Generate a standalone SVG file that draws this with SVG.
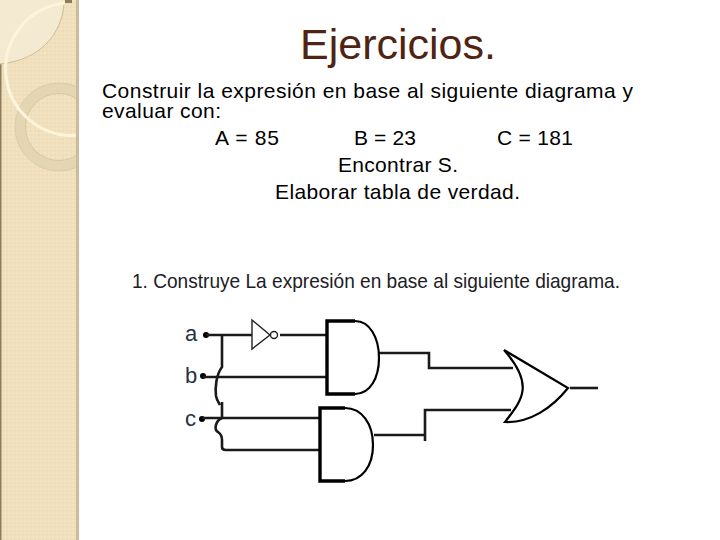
<svg xmlns="http://www.w3.org/2000/svg" width="720" height="540" viewBox="0 0 720 540">
<defs>
<pattern id="weave" width="4" height="4" patternUnits="userSpaceOnUse"><rect width="4" height="4" fill="#f0e0bd"/><rect width="2" height="2" fill="#f2e3c3"/><rect x="2" y="2" width="2" height="2" fill="#eedcb6"/></pattern>
<clipPath id="bar"><rect width="76" height="540"/></clipPath>
</defs>
<style>
text{font-family:"Liberation Sans",Arial,sans-serif}
.body{font-size:21px;fill:#000}
.w{fill:none;stroke:#1a1a1a;stroke-width:2.6}
.g{fill:none;stroke:#000;stroke-width:2.2}
.s{fill:none;stroke:#000;stroke-width:3.4}
.t{fill:#fff;stroke:#222;stroke-width:1.4}
.lab{font-size:22px;fill:#26323f}
</style>
<rect width="720" height="540" fill="#fff"/>
<g id="sidebar">
<rect width="79" height="540" fill="url(#weave)"/>
<rect x="76" width="3" height="540" fill="#cbbd9b"/>
<rect y="64" width="1.5" height="476" fill="#8d7d5e"/>
<g clip-path="url(#bar)">
<path d="M0 0H64C62 32 42 60 0 64Z" fill="#f4ead2"/>
<path d="M64 4C62 32 42 60 0 64" fill="none" stroke="#cdbd98" stroke-width="1"/>
<circle cx="59" cy="127" r="39" fill="none" stroke="#e4d6b2" stroke-width="10.5"/>
<circle cx="59" cy="127" r="44" fill="none" stroke="#d8c9a4" stroke-width=".8"/>
<circle cx="59" cy="127" r="33.5" fill="none" stroke="#d0c09a" stroke-width=".8"/>
<path d="M65 3A66 66 0 0 0 79 135" fill="none" stroke="#fcf5da" stroke-width="3"/>
</g>
<path d="M65 0H72V3H65Z" fill="#8d7d5e"/>
</g>
<g id="heading"><text x="398" y="59" text-anchor="middle" font-size="43" fill="#4f2413">Ejercicios.</text></g>
<g id="body-text">
<text class="body" x="102" y="98" textLength="531">Construir la expresión en base al siguiente diagrama y</text>
<text class="body" x="102" y="118" textLength="119">evaluar con:</text>
<text class="body" x="215" y="145" textLength="64">A = 85</text>
<text class="body" x="354" y="145" textLength="62">B = 23</text>
<text class="body" x="497" y="145" textLength="76">C = 181</text>
<text class="body" x="338" y="172" textLength="120">Encontrar S.</text>
<text class="body" x="275" y="199" textLength="245">Elaborar tabla de verdad.</text>
</g>
<text x="132" y="288" font-size="21" fill="#1c2026" textLength="488" lengthAdjust="spacingAndGlyphs">1. Construye La expresión en base al siguiente diagrama.</text>
<g id="input-a"><text class="lab" x="185" y="341">a</text><circle cx="206" cy="335" r="3" fill="#000"/></g>
<g id="input-b"><text class="lab" x="185" y="383">b</text><circle cx="203" cy="376" r="3" fill="#000"/></g>
<g id="input-c"><text class="lab" x="185" y="426">c</text><circle cx="202" cy="419" r="3" fill="#000"/></g>
<g id="connectors">
<path class="w" d="M206 335H252"/>
<path class="w" d="M280 335H327"/>
<path class="w" d="M203 377H327"/>
<path class="w" d="M202 418H320"/>
<path class="w" d="M222 335V367C216 375 215 388 216 396C217 401 219 403 220 405"/>
<path class="w" d="M222 402V418C215 421 214 430 218 432C221 434 222 436 222 440V447Q222 450 226 450H320"/>
<path class="w" d="M379 353H429V368H513"/>
<path class="w" d="M374 435H425"/>
<path class="w" d="M425 441V410H511"/>
<path class="w" d="M570 388H598"/>
</g>
<g id="not-gate"><path class="t" d="M252 320V349L270 335Z"/><circle class="t" cx="274" cy="335" r="3.5"/></g>
<g id="and-gate-1"><path class="g" d="M355 321C370 321 379 338 379 358C379 378 370 394 355 394"/><path class="s" d="M355 321H327V394H355"/></g>
<g id="and-gate-2"><path class="g" d="M345 408C362 408 373 424 373 445C373 466 362 481 345 481"/><path class="s" d="M345 408H320V481H345"/></g>
<g id="or-gate"><path class="g" d="M504 350L568 388C552 408 530 423 505 422C522 400 535 385 504 350Z"/></g>
</svg>
